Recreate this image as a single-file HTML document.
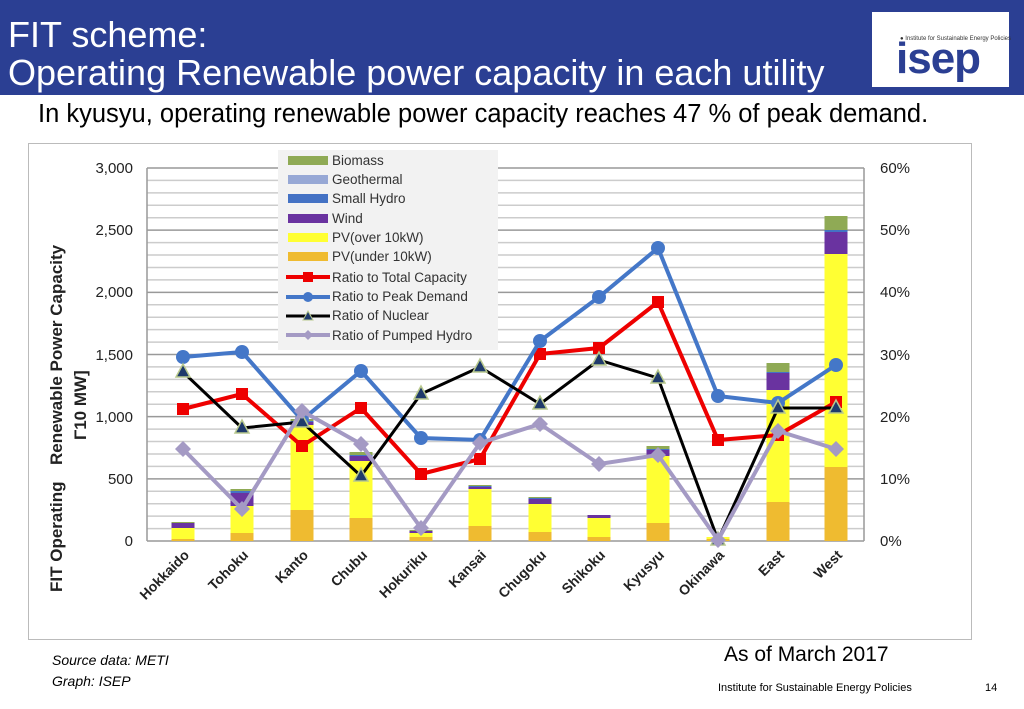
<!DOCTYPE html>
<html><head><meta charset="utf-8"><style>
body{margin:0;width:1024px;height:709px;background:#fff;font-family:"Liberation Sans",sans-serif;overflow:hidden;position:relative}
.hdr{position:absolute;left:0;top:0;width:1024px;height:95px;background:#2b3f93}
.t{position:absolute;left:8px;color:#fff;font-size:36px;line-height:36px;white-space:nowrap}
</style></head><body>
<div class="hdr"></div>
<div class="t" style="top:17px">FIT scheme:</div>
<div class="t" style="top:55px">Operating Renewable power capacity in each utility</div>
<div style="position:absolute;left:872px;top:12px;width:137px;height:75px;background:#fff"></div>
<div style="position:absolute;left:900px;top:36px;font-size:6px;color:#333;white-space:nowrap">● Institute for Sustainable Energy Policies</div>
<div style="position:absolute;left:896px;top:34px;font-size:44px;font-weight:bold;color:#2b3f93;letter-spacing:-1px">isep</div>
<div style="position:absolute;left:38px;top:100px;font-size:25.5px;color:#000;white-space:nowrap">In kyusyu, operating renewable power capacity reaches 47 % of peak demand.</div>
<svg style="position:absolute;left:0;top:0" width="1024" height="709">
<rect x="28.5" y="143.5" width="943" height="496" fill="#fff" stroke="#bbb"/>
<g id="grid"></g>
<g id="bars"></g>
<g id="lines"></g>
<g font-size="15" fill="#222" text-anchor="end">
<text x="133" y="546">0</text><text x="133" y="484">500</text><text x="133" y="422">1,000</text><text x="133" y="360">1,500</text><text x="133" y="297">2,000</text><text x="133" y="235">2,500</text><text x="133" y="173">3,000</text>
</g>
<g font-size="15" fill="#222">
<text x="880" y="546">0%</text><text x="880" y="484">10%</text><text x="880" y="422">20%</text><text x="880" y="360">30%</text><text x="880" y="297">40%</text><text x="880" y="235">50%</text><text x="880" y="173">60%</text>
</g>
<g font-size="14" font-weight="bold" fill="#222" text-anchor="end">
<text transform="translate(190,556) rotate(-45)">Hokkaido</text>
<text transform="translate(249,556) rotate(-45)">Tohoku</text>
<text transform="translate(309,556) rotate(-45)">Kanto</text>
<text transform="translate(368,556) rotate(-45)">Chubu</text>
<text transform="translate(428,556) rotate(-45)">Hokuriku</text>
<text transform="translate(487,556) rotate(-45)">Kansai</text>
<text transform="translate(547,556) rotate(-45)">Chugoku</text>
<text transform="translate(606,556) rotate(-45)">Shikoku</text>
<text transform="translate(665,556) rotate(-45)">Kyusyu</text>
<text transform="translate(725,556) rotate(-45)">Okinawa</text>
<text transform="translate(785,556) rotate(-45)">East</text>
<text transform="translate(843,556) rotate(-45)">West</text>
</g>
<g font-size="17" font-weight="bold" fill="#222">
<text transform="translate(62,592) rotate(-90)">FIT Operating</text>
<text transform="translate(62,465) rotate(-90)">Renewable Power Capacity</text>
<text transform="translate(86,440) rotate(-90)">Γ10 MW]</text>
</g>
<rect x="278" y="150" width="220" height="200" fill="#f2f2f2"/>
<g font-size="13.5" fill="#333">
<rect x="288" y="156" width="40" height="9" fill="#8faa55"/><text x="332" y="165">Biomass</text>
<rect x="288" y="175" width="40" height="9" fill="#97a8d5"/><text x="332" y="184">Geothermal</text>
<rect x="288" y="194" width="40" height="9" fill="#4472c4"/><text x="332" y="203">Small Hydro</text>
<rect x="288" y="214" width="40" height="9" fill="#6a33a0"/><text x="332" y="223">Wind</text>
<rect x="288" y="233" width="40" height="9" fill="#ffff33"/><text x="332" y="242">PV(over 10kW)</text>
<rect x="288" y="252" width="40" height="9" fill="#efbb30"/><text x="332" y="261">PV(under 10kW)</text>
<line x1="286" y1="277" x2="330" y2="277" stroke="#e00" stroke-width="4"/><rect x="303" y="272" width="10" height="10" fill="#e00"/><text x="332" y="282">Ratio to Total Capacity</text>
<line x1="286" y1="297" x2="330" y2="297" stroke="#4477c8" stroke-width="4"/><circle cx="308" cy="297" r="5" fill="#4477c8"/><text x="332" y="301">Ratio to Peak Demand</text>
<line x1="286" y1="316" x2="330" y2="316" stroke="#000" stroke-width="3"/><path d="M308 311 L313 320 L303 320Z" fill="#1f3a6b" stroke="#b9c98e"/><text x="332" y="320">Ratio of Nuclear</text>
<line x1="286" y1="335" x2="330" y2="335" stroke="#a49ac4" stroke-width="4"/><path d="M308 330 L313 335 L308 340 L303 335Z" fill="#a49ac4"/><text x="332" y="340">Ratio of Pumped Hydro</text>
</g>
</svg>
<div style="position:absolute;left:52px;top:652px;font-size:14px;font-style:italic">Source data: METI</div>
<div style="position:absolute;left:52px;top:673px;font-size:14px;font-style:italic">Graph: ISEP</div>
<div style="position:absolute;left:724px;top:643px;font-size:21px">As of March 2017</div>
<div style="position:absolute;left:718px;top:682px;font-size:11px">Institute for Sustainable Energy Policies</div>
<div style="position:absolute;left:985px;top:682px;font-size:11px">14</div>
<script>
const NS="http://www.w3.org/2000/svg";
function el(p,t,a){const e=document.createElementNS(NS,t);for(const k in a)e.setAttribute(k,a[k]);document.getElementById(p).appendChild(e);return e;}
for(let i=0;i<=30;i++){const y=541-i*373/30;const maj=i%5==0;el("grid","line",{x1:147,x2:864,y1:y,y2:y,stroke:maj?"#999":"#ccc","stroke-width":1.5});}
el("grid","line",{x1:147,x2:147,y1:168,y2:541,stroke:"#999","stroke-width":1.5});
el("grid","line",{x1:864,x2:864,y1:168,y2:541,stroke:"#999","stroke-width":1.5});
const xs=[183,242,302,361,421,480,540,599,658,718,778,836];
const B=[[539,528,523,523,522],[533,506,493,491,489],[510,425,422,421,419],[518,461,456,455,452],[537,533,531,531,530],[526,489,487,486,485],[532,504,499,498,497],[537,518,515,515,515],[523,456,450,449,446],[539,537,537,537,537],[502,390,373,372,363],[467,254,232,230,216]];
const C=["#efbb30","#ffff33","#6a33a0","#4472c4","#8faa55"];
B.forEach((b,i)=>{let prev=541;b.forEach((t,j)=>{if(prev-t>0)el("bars","rect",{x:xs[i]-11.5,y:t,width:23,height:prev-t,fill:C[j]});prev=t;});});
function line(ys,col,w){el("lines","polyline",{points:xs.map((x,i)=>x+","+ys[i]).join(" "),fill:"none",stroke:col,"stroke-width":w,"stroke-linejoin":"round"});}
const peak=[357,352,420,371,438,440,341,297,248,396,403,365];
const tot=[409,394,446,408,474,459,354,348,302,440,435,402];
const nuc=[372,428,422,476,394,367,404,360,378,540,408,408];
const pum=[449,509,411,444,528,443,424,464,455,540,431,449];
line(tot,"#e00",4);tot.forEach((y,i)=>el("lines","rect",{x:xs[i]-6,y:y-6,width:12,height:12,fill:"#e00"}));
line(peak,"#4477c8",4);peak.forEach((y,i)=>el("lines","circle",{cx:xs[i],cy:y,r:7,fill:"#4477c8"}));
line(nuc,"#000",3);nuc.forEach((y,i)=>el("lines","path",{d:`M${xs[i]} ${y-8} L${xs[i]+7} ${y+5} L${xs[i]-7} ${y+5}Z`,fill:"#1f3a6b",stroke:"#b9c98e","stroke-width":1.5}));
line(pum,"#a49ac4",4);pum.forEach((y,i)=>el("lines","path",{d:`M${xs[i]} ${y-8} L${xs[i]+8} ${y} L${xs[i]} ${y+8} L${xs[i]-8} ${y}Z`,fill:"#a49ac4"}));
</script>
</body></html>
